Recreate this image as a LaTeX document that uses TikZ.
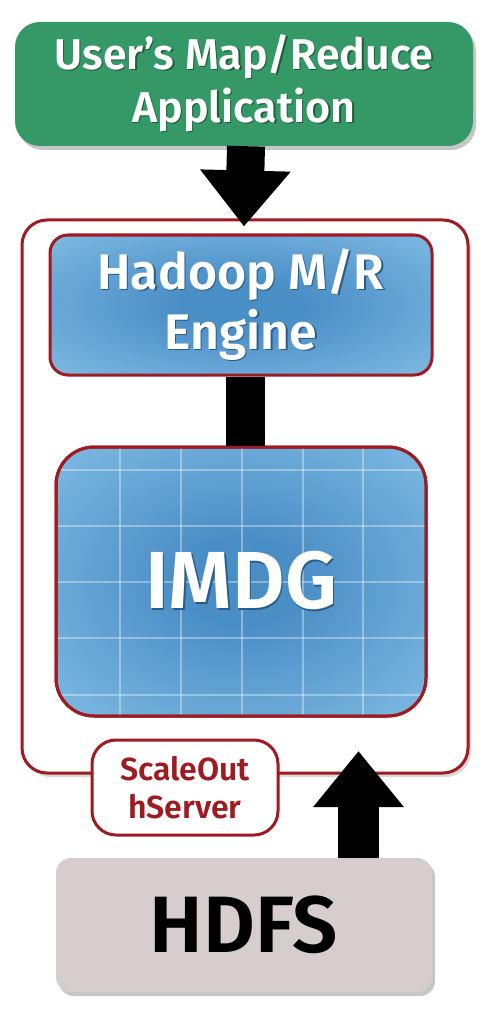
\documentclass[tikz,border=0pt]{standalone}
\usepackage{fontspec}
\setmainfont{Fira Sans}[UprightFont={* SemiBold}]
\usetikzlibrary{shadows,arrows.meta}
\definecolor{appgreen}{HTML}{349966}
\definecolor{appgreenD}{HTML}{1E5C3C}
\definecolor{darkred}{HTML}{9E1B22}
\definecolor{blueC}{HTML}{4A8EC6}
\definecolor{blueE}{HTML}{92CAEC}
\definecolor{blueD}{HTML}{2A5C88}
\definecolor{hdfsfill}{HTML}{D6CDCE}
\pgfdeclareradialshading{boxglow}{\pgfpoint{0bp}{0bp}}{color(0bp)=(blueC);color(8bp)=(blueC);color(46bp)=(blueE);color(72bp)=(blueE)}
\newcommand\shd[2]{\leavevmode\rlap{\hspace{1.3pt}\raisebox{-1.3pt}{\color{#1}#2}}#2}
\tikzset{
  x=1pt, y=-1pt,
  boxshadow/.style={drop shadow={opacity=0.45, shadow xshift=3pt, shadow yshift=-4pt}},
  greenbox/.style={fill=appgreen, rounded corners=25pt, boxshadow, text=white, align=center,
    font=\fontsize{43}{53}\selectfont, inner sep=0pt},
  serverbox/.style={draw=darkred, line width=3pt, fill=white, rounded corners=25pt,
    drop shadow={opacity=0.3, shadow xshift=3pt, shadow yshift=-4pt}},
  bluebox/.style={draw=darkred, line width=3pt, shading=boxglow, inner sep=0pt, text=white, align=center},
  labelbox/.style={draw=darkred, line width=3pt, fill=white, rounded corners=24pt, text=darkred,
    align=center, font=\fontsize{32}{38}\selectfont, inner sep=0pt},
  hdfsbox/.style={fill=hdfsfill, rounded corners=15pt, boxshadow, text=black,
    font=\fontsize{80}{80}\selectfont, inner sep=0pt},
  bigarrow/.style={draw=black, line width=#1, -{Triangle[width=87pt,length=56pt]}},
  link/.style={draw=black, line width=39pt},
  gridline/.style={draw=white, opacity=0.35, line width=1.2pt}
}
\begin{document}
\begin{tikzpicture}
\useasboundingbox (0,0) rectangle (490,1024);
% outer ScaleOut hServer container
\node[serverbox, minimum width=446pt, minimum height=553pt] (server) at (245,496.5) {};
% Hadoop engine
\node[bluebox, rounded corners=18pt, minimum width=382pt, minimum height=140pt,
  font=\fontsize{50}{60}\selectfont] (hadoop) at (241,305)
  {\shd{blueD}{Hadoop M/R}\\\shd{blueD}{Engine}};
% IMDG
\node[bluebox, rounded corners=38pt, minimum width=370pt, minimum height=269pt] (imdg) at (241,581.5) {};
\begin{scope}
  \clip[rounded corners=36pt] (57.5,448.5) rectangle (424.5,714.5);
  \foreach \gx in {120,181,242,303,363} \draw[gridline] (\gx,440) -- (\gx,720);
  \foreach \gy in {470,526,582,638,695} \draw[gridline] (50,\gy) -- (430,\gy);
\end{scope}
\draw[darkred, line width=3pt, rounded corners=38pt] (56,447) rectangle (426,716);
\node[text=white, font=\fontsize{81}{84}\selectfont, inner sep=0pt] (imdgtext) at (imdg.center) {\shd{blueD}{IMDG}};
% link Hadoop -> IMDG
\draw[link] ([xshift=4.5pt]hadoop.south) -- ([xshift=4.5pt]imdg.north);
% label
\node[labelbox, minimum width=186pt, minimum height=95pt] (label) at (185,787.5) {ScaleOut\\hServer};
% user application
\node[greenbox, minimum width=458pt, minimum height=124pt] (app) at (244,84)
  {\shd{appgreenD}{User’s Map/Reduce}\\\shd{appgreenD}{Application}};
% HDFS
\node[hdfsbox, minimum width=376pt, minimum height=134pt] (hdfs) at (244,925) {HDFS};
% arrows
\draw[bigarrow=38pt] ([xshift=2pt]app.south) -- ([xshift=-1pt,yshift=-8pt]server.north);
\draw[bigarrow=41pt] (hdfs.north -| 358.5,0) -- (358.5,751);
\end{tikzpicture}
\end{document}
